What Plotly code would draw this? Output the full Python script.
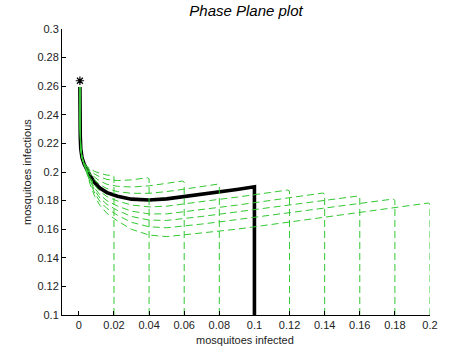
import plotly.graph_objects as go

# ---------------- data ----------------
X_TICKS = [0, 0.02, 0.04, 0.06, 0.08, 0.1, 0.12, 0.14, 0.16, 0.18, 0.2]
X_TICKTEXT = ["0", "0.02", "0.04", "0.06", "0.08", "0.1", "0.12", "0.14", "0.16", "0.18", "0.2"]
Y_TICKS = [0.1, 0.12, 0.14, 0.16, 0.18, 0.2, 0.22, 0.24, 0.26, 0.28, 0.3]
Y_TICKTEXT = ["0.1", "0.12", "0.14", "0.16", "0.18", "0.2", "0.22", "0.24", "0.26", "0.28", "0.3"]

# shared x positions of the slow (leftward) part and the common tail near x = 0
LEFT_X = [0.1, 0.09, 0.08, 0.07, 0.06, 0.05, 0.04, 0.03, 0.022, 0.016, 0.012, 0.009, 0.0065, 0.0045, 0.003]
TAIL_X = [0.0018, 0.0011, 0.0008, 0.0006, 0.0006]
TAIL_Y = [0.2100, 0.2160, 0.2250, 0.2380, 0.2595]

# black trajectory (starts at 0.1, 0.1)
black_x = [0.1, 0.1] + LEFT_X[1:] + TAIL_X
black_y = [0.1, 0.1897, 0.1878, 0.1862, 0.1845, 0.1828, 0.1812, 0.1804, 0.1810, 0.1830,
           0.1856, 0.1888, 0.1925, 0.1972, 0.2015, 0.2055] + TAIL_Y

# green dashed trajectories
g02_x = [0.02, 0.02, 0.019, 0.016, 0.012, 0.009, 0.0065, 0.0045, 0.003] + TAIL_X
g02_y = [0.1, 0.1969, 0.1977, 0.1978, 0.1991, 0.2004, 0.2023, 0.2038, 0.2062] + TAIL_Y

g04_x = [0.04, 0.04, 0.039, 0.03, 0.022, 0.016, 0.012, 0.009, 0.0065, 0.0045, 0.003] + TAIL_X
g04_y = [0.1, 0.1952, 0.1960, 0.1945, 0.1940, 0.1948, 0.1966, 0.1985, 0.2011, 0.2033, 0.2060] + TAIL_Y

g06_x = [0.06, 0.06, 0.059] + LEFT_X[5:] + TAIL_X
g06_y = [0.1, 0.1929, 0.1937, 0.1919, 0.1903, 0.1895, 0.1900, 0.1914, 0.1937, 0.1963,
         0.1997, 0.2026, 0.2058] + TAIL_Y

g08_x = [0.08, 0.08, 0.079] + LEFT_X[3:] + TAIL_X
g08_y = [0.1, 0.1907, 0.1915, 0.1897, 0.1880, 0.1863, 0.1851, 0.1851, 0.1863, 0.1884,
         0.1912, 0.1943, 0.1984, 0.2020, 0.2057] + TAIL_Y

g12_x = [0.12, 0.12, 0.119, 0.11] + LEFT_X + TAIL_X
g12_y = [0.1, 0.1866, 0.1874, 0.1857, 0.1839, 0.1824, 0.1809, 0.1792, 0.1776, 0.1761,
         0.1756, 0.1769, 0.1797, 0.1828, 0.1864, 0.1907, 0.1960, 0.2010, 0.2053] + TAIL_Y

g14_x = [0.14, 0.14, 0.139, 0.13, 0.12, 0.11] + LEFT_X + TAIL_X
g14_y = [0.1, 0.1845, 0.1853, 0.1837, 0.1819, 0.1801, 0.1783, 0.1768, 0.1753, 0.1737,
         0.1721, 0.1707, 0.1707, 0.1726, 0.1762, 0.1799, 0.1840, 0.1888, 0.1948, 0.2004,
         0.2052] + TAIL_Y

g16_x = [0.16, 0.16, 0.159, 0.15, 0.14, 0.13, 0.12, 0.11] + LEFT_X + TAIL_X
g16_y = [0.1, 0.1824, 0.1832, 0.1817, 0.1800, 0.1784, 0.1767, 0.1751, 0.1734, 0.1719,
         0.1705, 0.1689, 0.1674, 0.1661, 0.1664, 0.1689, 0.1731, 0.1773, 0.1818, 0.1871,
         0.1937, 0.1999, 0.2050] + TAIL_Y

g18_x = [0.18, 0.18, 0.179, 0.17, 0.16, 0.15, 0.14, 0.13, 0.12, 0.11] + LEFT_X + TAIL_X
g18_y = [0.1, 0.1802, 0.1811, 0.1796, 0.1779, 0.1763, 0.1746, 0.1730, 0.1713, 0.1697,
         0.1680, 0.1665, 0.1651, 0.1636, 0.1621, 0.1610, 0.1617, 0.1648, 0.1698, 0.1745,
         0.1794, 0.1853, 0.1925, 0.1994, 0.2049] + TAIL_Y

g20_x = [0.2, 0.2, 0.199, 0.19, 0.18, 0.17, 0.16, 0.15, 0.14, 0.13, 0.12, 0.11] + LEFT_X + TAIL_X
g20_y = [0.1, 0.1774, 0.1783, 0.1768, 0.1751, 0.1734, 0.1717, 0.1700, 0.1683, 0.1666,
         0.1649, 0.1632, 0.1615, 0.1600, 0.1587, 0.1573, 0.1558, 0.1548, 0.1559, 0.1599,
         0.1658, 0.1711, 0.1766, 0.1830, 0.1911, 0.1987, 0.2047] + TAIL_Y

GREEN_CURVES = [(g02_x, g02_y), (g04_x, g04_y), (g06_x, g06_y), (g08_x, g08_y),
                (g12_x, g12_y), (g14_x, g14_y), (g16_x, g16_y), (g18_x, g18_y),
                (g20_x, g20_y)]

star_x = [0.0006]
star_y = [0.2638]

# ---------------- figure ----------------
FONT = "Liberation Sans, Arial, Helvetica, sans-serif"
GREEN = "rgb(50,200,50)"

fig = go.Figure()

fig.add_trace(go.Scatter(x=black_x, y=black_y, mode="lines",
                         line=dict(color="black", width=3.6), hoverinfo="skip"))

for gx, gy in GREEN_CURVES:
    fig.add_trace(go.Scatter(x=gx, y=gy, mode="lines",
                             line=dict(color=GREEN, width=1, dash="7px,4px"),
                             hoverinfo="skip"))

fig.add_trace(go.Scatter(x=star_x, y=star_y, mode="markers",
                         marker=dict(symbol="asterisk-open", size=7, color="black",
                                     line=dict(color="black", width=1.2)),
                         hoverinfo="skip"))

axis_common = dict(showgrid=False, zeroline=False, showline=True, linecolor="black",
                   linewidth=1, ticks="inside", ticklen=4, tickcolor="black",
                   tickfont=dict(family=FONT, size=11, color="#222"), mirror=False)

fig.update_layout(
    width=474, height=355,
    margin=dict(l=62, r=44, t=29, b=40),
    paper_bgcolor="white", plot_bgcolor="white",
    showlegend=False,
    title=dict(text="<i>Phase Plane plot</i>", x=0.519, xanchor="center",
               y=1 - 11 / 355, yanchor="middle", yref="container",
               font=dict(family=FONT, size=15, color="black")),
    xaxis=dict(range=[-0.0096, 0.2], tickvals=X_TICKS, ticktext=X_TICKTEXT, **axis_common),
    yaxis=dict(range=[0.1, 0.3], tickvals=Y_TICKS, ticktext=Y_TICKTEXT, **axis_common),
    annotations=[
        dict(text="mosquitoes infected", xref="paper", yref="paper", x=0.497, y=(315 - 340) / 286,
             xanchor="center", yanchor="middle", showarrow=False,
             font=dict(family=FONT, size=11, color="#222")),
        dict(text="mosquitoes infectious", xref="paper", yref="paper", x=(27 - 62) / 368,
             y=0.5, xanchor="center", yanchor="middle", textangle=-90, showarrow=False,
             font=dict(family=FONT, size=11, color="#222")),
    ],
)

fig.write_html("out.html")
